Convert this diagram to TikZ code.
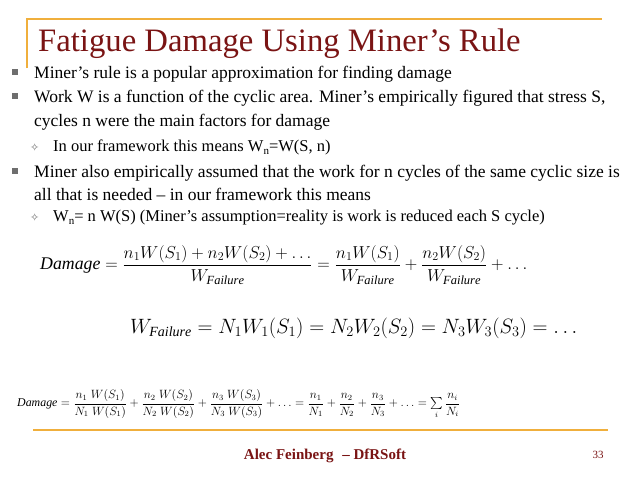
\documentclass[tikz,border=0pt]{standalone}
\usepackage{fontspec}
\setmainfont{Liberation Serif}
\newfontfamily\symf{DejaVu Sans}
\usepackage{amsmath}
\definecolor{ttl}{RGB}{122,20,20}
\definecolor{org}{RGB}{240,175,60}
\definecolor{bul}{RGB}{110,110,110}
\tikzset{x=1pt,y=-1pt,
 txt/.style={anchor=base west,inner sep=0,font=\fontsize{17.5}{19}\selectfont},
 sub/.style={anchor=base west,inner sep=0,font=\fontsize{16.5}{16}\selectfont},
 sq/.style={fill=bul,minimum size=6pt,inner sep=0},
 dm/.style={anchor=base west,inner sep=0,font=\fontsize{11}{12}\symf,text=bul}}
\begin{document}
\begin{tikzpicture}
\useasboundingbox (0,0) rectangle (638,479);
\fill[white] (0,0) rectangle (638,479);
\draw[org,line width=1.2pt] (27,68) -- (27,19) -- (602,19);
\draw[org,line width=1.2pt] (33,430) -- (608,430);
\node[anchor=base west,inner sep=0,text=ttl,font=\fontsize{32.7}{34}\selectfont] (t) at (38,52) {Fatigue Damage Using Miner’s Rule};
\foreach \y in {72,96,171}{\node[sq] at (15,\y) {};}
\node[txt] (l1) at (34,78) {Miner’s rule is a popular approximation for finding damage};
\node[txt] (l2) at (34,102) {Work W is a function of the cyclic area. Miner’s empirically figured that stress S,};
\node[txt] (l3) at (34,126) {cycles n were the main factors for damage};
\node[dm] (d1) at (30,151) {✧};
\node[sub] (s1) at (53,151) {In our framework this means W\raisebox{-3pt}{\fontsize{11}{11}\selectfont n}=W(S, n)};
\node[txt] (l4) at (34,177) {Miner also empirically assumed that the work for n cycles of the same cyclic size is};
\node[txt] (l5) at (34,200) {all that is needed – in our framework this means};
\node[dm] (d2) at (30,221) {✧};
\node[sub] (s2) at (53,221) {W\raisebox{-3pt}{\fontsize{11}{11}\selectfont n}= n W(S) (Miner’s assumption=reality is work is reduced each S cycle)};
\node[anchor=west,inner sep=0,font=\fontsize{17.8}{20}\selectfont] (e1) at (40,265)
 {$\mathit{Damage}=\dfrac{n_1W(S_1)+n_2W(S_2)+\ldots}{W_{\mathit{Failure}}}=\dfrac{n_1W(S_1)}{W_{\mathit{Failure}}}+\dfrac{n_2W(S_2)}{W_{\mathit{Failure}}}+\ldots$};
\node[anchor=west,inner sep=0,font=\fontsize{20}{22}\selectfont] (e2) at (130,328)
 {$W_{\mathit{Failure}}=N_1W_1(S_1)=N_2W_2(S_2)=N_3W_3(S_3)=\ldots$};
\node[anchor=west,inner sep=0,font=\fontsize{11.9}{12}\selectfont] (e3) at (17,404)
 {$\mathit{Damage}=\dfrac{n_1\;W(S_1)}{N_1\;W(S_1)}+\dfrac{n_2\;W(S_2)}{N_2\;W(S_2)}+\dfrac{n_3\;W(S_3)}{N_3\;W(S_3)}+\ldots=\dfrac{n_1}{N_1}+\dfrac{n_2}{N_2}+\dfrac{n_3}{N_3}+\ldots=\sum\limits_i\dfrac{n_i}{N_i}$};
\node[inner sep=0,text=ttl,font=\fontsize{15}{18}\selectfont\bfseries] (f) at (325,456) {Alec Feinberg\,\, – DfRSoft};
\node[inner sep=0,text=ttl,font=\fontsize{11}{12}\selectfont] (p) at (598,455) {33};
\end{tikzpicture}
\end{document}
